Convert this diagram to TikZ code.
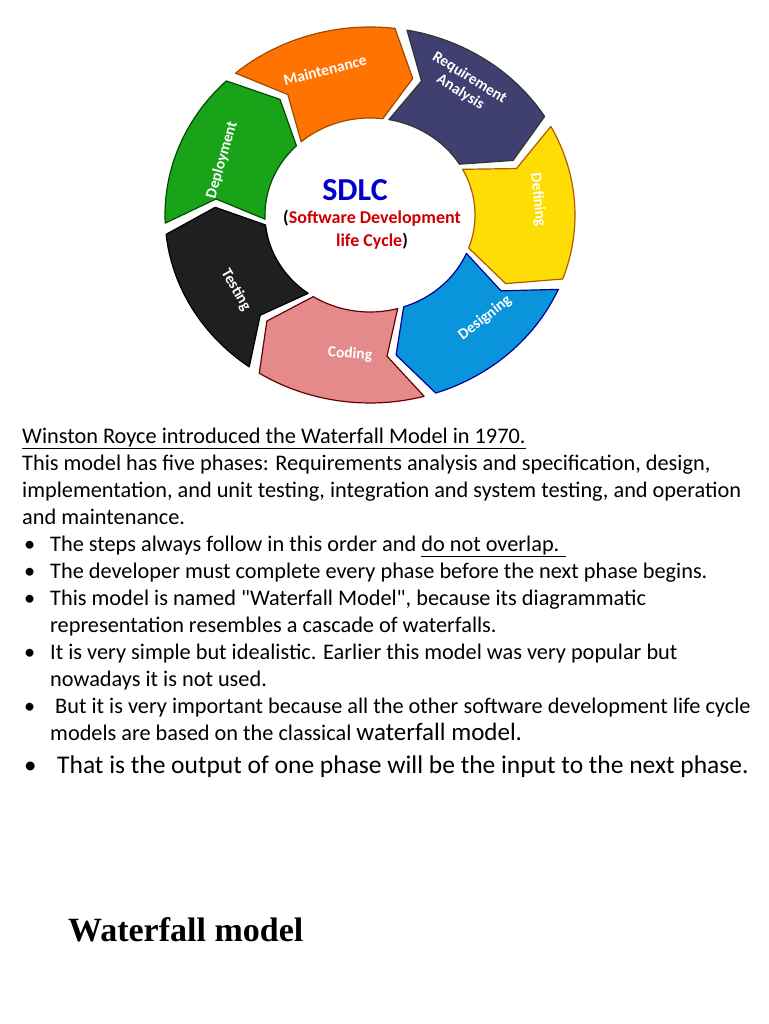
\documentclass[tikz,border=0pt]{standalone}
\usepackage{fontspec}
\setmainfont{Carlito}[Ligatures=TeXOff]
\newfontfamily\tnr{Liberation Serif}
\begin{document}
\begin{tikzpicture}[x=1pt,y=-1pt,
  lbl/.style={text=white,font=\bfseries\fontsize{15.5}{17}\selectfont,align=center},
  ln/.style={anchor=base west,inner sep=0pt,font=\fontsize{22.3}{24}\selectfont},
  bul/.style={anchor=base west,inner sep=0pt,font=\fontsize{22.3}{24}\selectfont}]
\useasboundingbox (0,0) rectangle (768,1024);
\def\cx{370}\def\cy{215}
\def\RX{205}\def\RY{188}\def\rx{105}\def\ry{97}\def\mx{155}\def\my{142}
\newcommand\seg[3]{%
  \pgfmathsetmacro\aa{#1+24}\pgfmathsetmacro\ab{#1-24}%
  \pgfmathsetmacro\at{#1-33}\pgfmathsetmacro\an{#1+15}%
  \filldraw[fill=#2,draw=#3,line width=1.2pt,line join=round]
    plot[domain=\aa:\ab,samples=25] ({\cx+\RX*cos(\x)},{\cy-\RY*sin(\x)})
    -- ({\cx+\mx*cos(\at)},{\cy-\my*sin(\at)})
    -- plot[domain=\ab:\aa,samples=25] ({\cx+\rx*cos(\x)},{\cy-\ry*sin(\x)})
    -- ({\cx+\mx*cos(\an)},{\cy-\my*sin(\an)}) -- cycle;}
\seg{107}{orange!90!red}{orange!60!black}
\seg{55.6}{blue!25!black!75}{black!80}
\seg{4.1}{yellow!80!orange}{orange!70!black}
\seg{-47.3}{cyan!80!blue}{blue!60!black}
\seg{-98.7}{red!40!white!90!black}{red!40!black}
\seg{-150.1}{black!88}{black}
\seg{158.5}{green!60!black!90}{green!30!black}
\node[lbl,rotate=14] (mai) at (325,70) {Maintenance};
\node[lbl,rotate=-32] (req) at (465,85) {Requirement\\Analysis};
\node[lbl,rotate=-84] (def) at (538,200) {Defining};
\node[lbl,rotate=38] (des) at (485,318) {Designing};
\node[lbl,rotate=-4] (cod) at (350,354) {Coding};
\node[lbl,rotate=-60] (tes) at (236,290) {Testing};
\node[lbl,rotate=74] (dep) at (222,160) {Deployment};
\node[font=\bfseries\fontsize{32}{34}\selectfont,text=blue!80!black] (sdlc) at (355,190) {SDLC};
\node[font=\bfseries\fontsize{18}{23}\selectfont,align=center] (sub) at (372,230)
  {(\textcolor{red!80!black}{Software Development}\\\textcolor{red!80!black}{life Cycle})};
\node[ln] (l1) at (22,443) {\underline{Winston Royce introduced the Waterfall Model in 1970.}};
\node[ln] (l2) at (22,470) {This model has five phases: Requirements analysis and specification, design,};
\node[ln] (l3) at (22,497) {implementation, and unit testing, integration and system testing, and operation};
\node[ln] (l4) at (22,524) {and maintenance.};
\foreach \y/\t in {551/{The steps always follow in this order and \underline{do not overlap. }},
                   578/{The developer must complete every phase before the next phase begins.},
                   605/{This model is named "Waterfall Model", because its diagrammatic},
                   659/{It is very simple but idealistic. Earlier this model was very popular but},
                   713/{\ But it is very important because all the other software development life cycle}}
  {\node[bul] at (24,\y) {\textbullet}; \node[ln] at (50,\y) {\t};}
\node[ln] (l7) at (50,632) {representation resembles a cascade of waterfalls.};
\node[ln] (l9) at (50,686) {nowadays it is not used.};
\node[ln] (l11) at (50,740) {models are based on the classical {\fontsize{25}{27}\selectfont waterfall model.}};
\node[bul,font=\fontsize{25}{27}\selectfont] (b7) at (24,773) {\textbullet};
\node[ln,font=\fontsize{25.5}{27}\selectfont] (l12) at (57,773) {That is the output of one phase will be the input to the next phase.};
\node[anchor=base west,inner sep=0pt,font=\tnr\bfseries\fontsize{34}{36}\selectfont] (wm) at (68,941) {Waterfall model};
\end{tikzpicture}
\end{document}
